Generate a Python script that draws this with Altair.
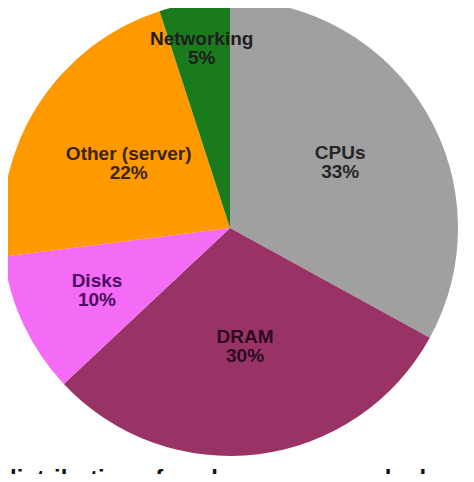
import altair as alt
import pandas as pd

categories = ["CPUs", "DRAM", "Disks", "Other (server)", "Networking"]
shares = [33, 30, 10, 22, 5]
slice_colors = ["#a0a0a0", "#993366", "#f46cf6", "#ff9900", "#1b7a1b"]
label_colors = ["#262626", "#2b0a1e", "#4b0d5e", "#3a2410", "#1e1e1e"]
caption = "distribution of peak power usage by hardware"

df = pd.DataFrame({
    "category": categories,
    "share": shares,
    "idx": list(range(len(categories))),
})
total = sum(shares)

cx, cy, R = 222, 220, 228
theta_scale = alt.Scale(domain=[0, total], range=[0, 6.283185307179586])

base = alt.Chart(df).transform_window(
    cum="sum(share)", sort=[alt.SortField("idx", order="ascending")],
    frame=[None, 0],
).transform_calculate(
    start="datum.cum - datum.share",
    mid="datum.cum - datum.share / 2",
    label="datum.category + '\\n' + datum.share + '%'",
    lr="datum.share < 8 ? 181 : (datum.share < 15 ? 147 : (datum.share < 31 ? 120 : 128))",
)

pie = base.mark_arc(outerRadius=R).encode(
    theta=alt.Theta("start:Q", scale=theta_scale),
    theta2="cum:Q",
    color=alt.Color("category:N",
                    scale=alt.Scale(domain=categories, range=slice_colors),
                    legend=None),
    x=alt.value(cx), y=alt.value(cy),
)

labels = base.mark_text(
    font="Liberation Sans", fontWeight="bold", fontSize=19,
    lineBreak="\n", lineHeight=19, align="center", baseline="middle", dy=-10,
).encode(
    theta=alt.Theta("mid:Q", scale=theta_scale),
    radius=alt.Radius("lr:Q", scale=None),
    text="label:N",
    color=alt.Color("category:N",
                    scale=alt.Scale(domain=categories, range=label_colors),
                    legend=None),
    x=alt.value(cx), y=alt.value(cy),
)

cap = alt.Chart(pd.DataFrame({"t": [caption]})).mark_text(
    font="Liberation Sans", fontSize=24, fontWeight="bold",
    align="left", baseline="top", color="#111111",
).encode(text="t:N", x=alt.value(-6), y=alt.value(460))

chart = alt.layer(pie, labels, cap).resolve_scale(color="independent").properties(
    width=458, height=466, autosize=alt.AutoSizeParams(type="none"), padding=0,
).configure_view(stroke=None)

chart.save("out.html", embed_options={"renderer": "svg", "actions": False})
